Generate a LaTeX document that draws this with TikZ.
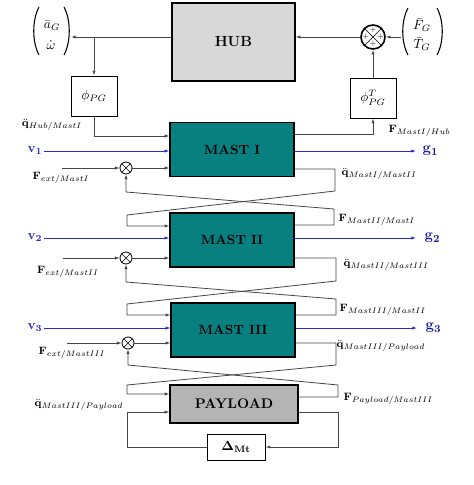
\documentclass[tikz,border=0pt]{standalone}
\usepackage{amsmath,amssymb}
\usetikzlibrary{arrows.meta,calc}
\definecolor{mastfill}{RGB}{8,128,128}
\definecolor{hubfill}{RGB}{216,216,216}
\definecolor{payfill}{RGB}{180,180,180}
\definecolor{linegray}{RGB}{70,70,70}
\definecolor{vblue}{RGB}{40,40,210}
\definecolor{gblue}{RGB}{25,25,160}
\begin{document}
\begin{tikzpicture}[x=0.75pt,y=-0.75pt,
  blk/.style={draw=black,line width=1pt,rectangle,inner sep=0pt},
  mastbox/.style={blk,fill=mastfill,minimum width=93pt,minimum height=40.5pt,font=\fontsize{10}{12}\selectfont\bfseries},
  smallbox/.style={blk,line width=0.7pt,fill=white,minimum width=34.5pt,minimum height=30pt,font=\fontsize{10}{12}\selectfont},
  conn/.style={draw=linegray,line width=0.6pt},
  arr/.style={conn,-{Latex[length=3.5pt,width=2.4pt]}},
  barr/.style={draw=vblue,line width=0.6pt,-{Latex[length=3.5pt,width=2.4pt]}},
  lab/.style={font=\fontsize{8}{9}\selectfont,inner sep=1pt},
  vlab/.style={font=\fontsize{10}{12}\selectfont,text=vblue,inner sep=1pt},
  glab/.style={font=\fontsize{11}{12}\selectfont,text=gblue,inner sep=1pt,anchor=west},
  vec/.style={font=\fontsize{10}{12}\selectfont,inner sep=0pt},
  paren/.style={draw=black,line width=0.8pt},
  summer/.style={draw=black,line width=0.6pt,circle,minimum size=9pt,inner sep=0pt,fill=white},
  bigsum/.style={draw=black,line width=1.2pt,circle,minimum size=18pt,inner sep=0pt},
]
\useasboundingbox (0,0) rectangle (474,485);

% main blocks
\node[blk,fill=hubfill,minimum width=92.25pt,minimum height=58.5pt,font=\fontsize{11}{12}\selectfont\bfseries] (HUB) at (233.5,42) {HUB};
\node[mastbox] (M1) at (232,149.5) {MAST I};
\node[mastbox] (M2) at (232,240) {MAST II};
\node[mastbox] (M3) at (233,330) {MAST III};
\node[blk,fill=payfill,minimum width=96pt,minimum height=28.5pt,font=\fontsize{10.5}{12}\selectfont\bfseries] (PAY) at (234,404) {PAYLOAD};
\node[blk,line width=0.7pt,minimum width=43.5pt,minimum height=19.5pt,font=\fontsize{10}{12}\selectfont] (DEL) at (236,447) {$\boldsymbol{\Delta}_{\mathbf{Mt}}$};
\node[smallbox] (PHI) at (94,96) {$\phi_{PG}$};
\node[smallbox] (PHIT) at (373,98) {$\phi_{PG}^{T}$};

% vectors (entries as text, brackets drawn)
\node[vec] (AG1) at (52,26) {$\bar{a}_G$};
\node[vec] (AG2) at (51,45) {$\dot{\omega}$};
\draw[paren] (39,7) .. controls (32,20) and (32,42) .. (39,55);
\draw[paren] (64,7) .. controls (71,20) and (71,42) .. (64,55);
\coordinate (AGE) at (71,37);
\node[vec] (FG1) at (422,25) {$\bar{F}_G$};
\node[vec] (FG2) at (422,44) {$\bar{T}_G$};
\draw[paren] (408,8) .. controls (401,21) and (401,42) .. (408,55);
\draw[paren] (437,8) .. controls (444,21) and (444,42) .. (437,55);
\coordinate (FGW) at (401,37);

% big summer
\node[bigsum] (S0) at (373,37) {};
\draw[line width=0.5pt] (S0.north east) -- (S0.south west) (S0.north west) -- (S0.south east);
\foreach \a in {90,0,270,180}{
  \node[font=\fontsize{5}{5}\selectfont,inner sep=0pt] at ($(S0.center)+(\a:5.5pt)$) {$+$};
}

% small summers
\node[summer] (SA) at (126,168) {};
\node[summer] (SB) at (126,258) {};
\node[summer] (SC) at (128,343) {};
\foreach \s in {SA,SB,SC}{
  \draw[line width=0.4pt] (\s.north east) -- (\s.south west) (\s.north west) -- (\s.south east);
}

% top connections
\draw[arr] (S0.west) -- (S0 -| HUB.east);
\draw[arr] (HUB.west |- S0) -- (AGE);
\coordinate (BR) at (94,37);
\draw[arr] (BR) -- (PHI.north);
\draw[arr] (FGW) -- (S0.east);
\draw[arr] (PHIT.north) -- (S0.south);
\draw[arr] (M1.east |- 0,134) -- (373,134) -- (PHIT.south);
\draw[arr] (PHI.south) -- (94,136) -- (M1.west |- 0,136);

% inputs / outputs MAST I
\node[vlab] (V1) at (35,151) {$\mathbf{v_1}$};
\draw[barr] (V1.east) -- (M1.west |- V1.east);
\draw[barr] (M1.east |- 0,151) -- (416,151);
\node[glab] (G1) at (421,151) {$\mathbf{g_1}$};
\coordinate (IA) at (62,168);
\draw[arr] (IA) -- (SA.west);
\draw[arr] (SA.east) -- (M1.west |- SA.east);
\node[lab] (FE1) at (61,178) {$\mathbf{F}_{ext/MastI}$};
\node[lab] (QH) at (52,125) {$\ddot{\mathbf{q}}_{Hub/MastI}$};
\node[lab,anchor=west] (FMH) at (387,131) {$\mathbf{F}_{MastI/Hub}$};

% MAST I <-> MAST II
\draw[arr] (M1.east |- 0,169) -- (335,169) -- (335,191) -- (127,215) -- (127,226) -- (M2.west |- 0,226);
\draw[arr] (M2.east |- 0,225) -- (334,225) -- (334,209) -- (126,192) -- (SA.south);
\node[lab,anchor=west] (Q12) at (340,174) {$\ddot{\mathbf{q}}_{MastI/MastII}$};
\node[lab,anchor=west] (F21) at (337,220) {$\mathbf{F}_{MastII/MastI}$};

% inputs / outputs MAST II
\node[vlab] (V2) at (35,238) {$\mathbf{v_2}$};
\draw[barr] (V2.east) -- (M2.west |- V2.east);
\draw[barr] (M2.east |- 0,238) -- (416,238);
\node[glab] (G2) at (423,238) {$\mathbf{g_2}$};
\coordinate (IB) at (63,258);
\draw[arr] (IB) -- (SB.west);
\draw[arr] (SB.east) -- (M2.west |- SB.east);
\node[lab] (FE2) at (68,272) {$\mathbf{F}_{ext/MastII}$};

% MAST II <-> MAST III
\draw[arr] (M2.east |- 0,258) -- (336,258) -- (336,281) -- (127,304) -- (127,315) -- (M3.west |- 0,315);
\draw[arr] (M3.east |- 0,315) -- (336,315) -- (336,299) -- (126,282) -- (SB.south);
\node[lab,anchor=west] (Q23) at (342,265) {$\ddot{\mathbf{q}}_{MastII/MastIII}$};
\node[lab,anchor=west] (F32) at (338,310) {$\mathbf{F}_{MastIII/MastII}$};

% inputs / outputs MAST III
\node[vlab] (V3) at (35,328) {$\mathbf{v_3}$};
\draw[barr] (V3.east) -- (M3.west |- V3.east);
\draw[barr] (M3.east |- 0,328) -- (417,328);
\node[glab] (G3) at (424,328) {$\mathbf{g_3}$};
\coordinate (IC) at (67,343);
\draw[arr] (IC) -- (SC.west);
\draw[arr] (SC.east) -- (M3.west |- SC.east);
\node[lab] (FE3) at (72,353) {$\mathbf{F}_{ext/MastIII}$};

% MAST III <-> PAYLOAD
\draw[arr] (M3.east |- 0,343) -- (336,343) -- (336,365) -- (127,385) -- (127,394) -- (PAY.west |- 0,394);
\draw[arr] (PAY.east |- 0,397) -- (338,397) -- (338,385) -- (128,365) -- (SC.south);
\node[lab,anchor=west] (Q3P) at (335,346) {$\ddot{\mathbf{q}}_{MastIII/Payload}$};
\node[lab,anchor=west] (FP3) at (342,399) {$\mathbf{F}_{Payload/MastIII}$};
\node[lab] (Q3PL) at (79,405) {$\ddot{\mathbf{q}}_{MastIII/Payload}$};

% payload loop
\draw[arr] (PAY.east |- 0,412) -- (338,412) -- (338,447) -- (DEL.east);
\draw[arr] (DEL.west) -- (127,447) -- (127,412) -- (PAY.west |- 0,412);
\end{tikzpicture}
\end{document}
